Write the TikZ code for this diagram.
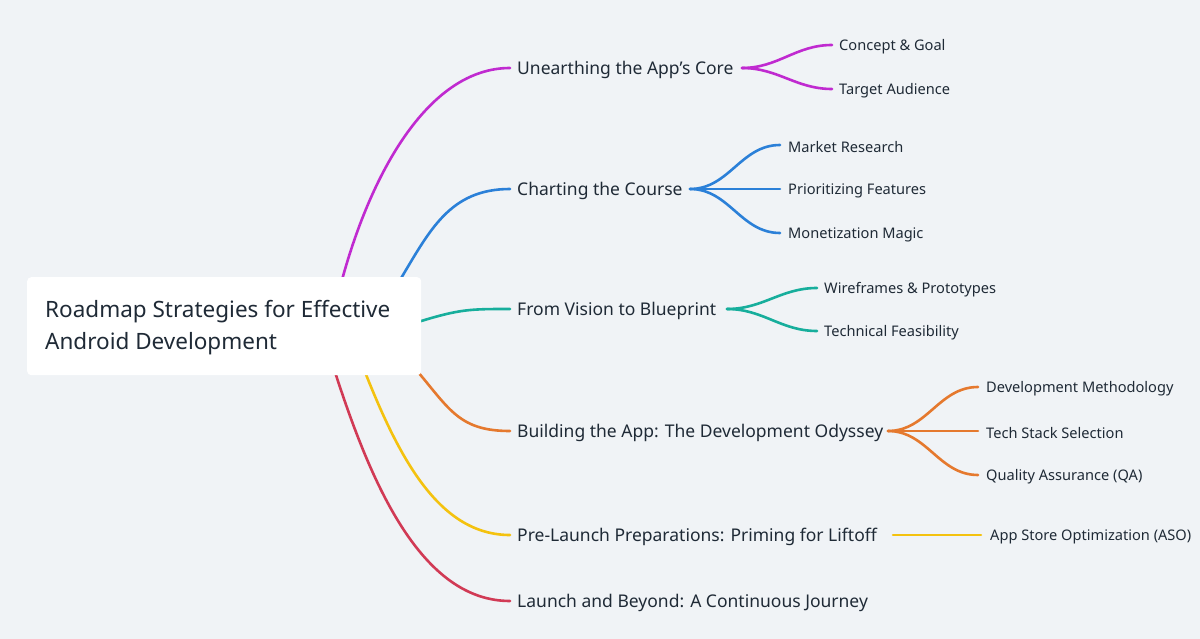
\documentclass[tikz,border=0pt]{standalone}
\usepackage{fontspec}
\setmainfont{Noto Sans}
\definecolor{bg}{HTML}{F0F3F6}
\definecolor{cpur}{HTML}{C02AD0}
\definecolor{cblu}{HTML}{2B80D8}
\definecolor{ctea}{HTML}{17AE9C}
\definecolor{cora}{HTML}{E5792E}
\definecolor{cyel}{HTML}{F4C20F}
\definecolor{cred}{HTML}{D13A55}
\definecolor{txt}{HTML}{1F2A36}
\tikzset{
 br/.style={line width=2.6pt,line cap=round},
 mainlbl/.style={anchor=west,inner sep=0pt,text=txt,font=\fontsize{17.5}{20}\selectfont},
 sublbl/.style={anchor=west,inner sep=0pt,text=txt,font=\fontsize{14.6}{17}\selectfont},
}
\begin{document}
\begin{tikzpicture}[x=1pt,y=-1pt]
\fill[bg] (0,0) rectangle (1200,639);
\useasboundingbox (0,0) rectangle (1200,639);
% branch starts (at the root box edge)
\coordinate (sp) at (342,280);
\coordinate (sb) at (400,280);
\coordinate (st) at (418,322);
\coordinate (so) at (418,372);
\coordinate (sy) at (365,372);
\coordinate (sr) at (335,372);
% main branch ends
\coordinate (ep) at (510,68);
\coordinate (eb) at (510,189);
\coordinate (et) at (510,309);
\coordinate (eo) at (510,431);
\coordinate (ey) at (510,535);
\coordinate (er) at (510,601);
\draw[br,cpur] (sp) .. controls (372,170) and (430,68) .. (ep);
\draw[br,cblu] (sb) .. controls (430,230) and (450,189) .. (eb);
\draw[br,ctea] (st) .. controls (460,309) and (470,309) .. (et);
\draw[br,cora] (so) .. controls (450,410) and (460,431) .. (eo);
\draw[br,cyel] (sy) .. controls (400,460) and (440,535) .. (ey);
\draw[br,cred] (sr) .. controls (370,480) and (420,601) .. (er);
\node[fill=white,rounded corners=4pt,minimum width=394pt,minimum height=98pt,anchor=north west] (root) at (27,277) {};
\node[anchor=west,align=left,inner sep=0pt,text=txt,font=\fontsize{22.5}{32}\selectfont] (rt) at (45,328) {Roadmap Strategies for Effective\\Android Development};
% main labels
\node[mainlbl] (m1) at (517,70) {Unearthing the App's Core};
\node[mainlbl] (m2) at (517,191) {Charting the Course};
\node[mainlbl] (m3) at (517,311) {From Vision to Blueprint};
\node[mainlbl] (m4) at (517,433) {Building the App: The Development Odyssey};
\node[mainlbl] (m5) at (517,537) {Pre-Launch Preparations: Priming for Liftoff};
\node[mainlbl] (m6) at (517,603) {Launch and Beyond: A Continuous Journey};
% sub-branches
\coordinate (p0) at (742,68);
\coordinate (p1) at (832,45); \coordinate (p2) at (832,89);
\draw[br,cpur] (p0) to[out=0,in=180] (p1);
\draw[br,cpur] (p0) to[out=0,in=180] (p2);
\node[sublbl] (s11) at (839,47) {Concept \& Goal};
\node[sublbl] (s12) at (839,91) {Target Audience};
\coordinate (b0) at (690,189);
\coordinate (b1) at (780,145); \coordinate (b2) at (780,189); \coordinate (b3) at (780,233);
\draw[br,cblu] (b0) to[out=0,in=180] (b1);
\draw[br,cblu] (b0) -- (b2);
\draw[br,cblu] (b0) to[out=0,in=180] (b3);
\node[sublbl] (s21) at (788,147) {Market Research};
\node[sublbl] (s22) at (788,191) {Prioritizing Features};
\node[sublbl] (s23) at (788,235) {Monetization Magic};
\coordinate (t0) at (727,309);
\coordinate (t1) at (817,288); \coordinate (t2) at (817,331);
\draw[br,ctea] (t0) to[out=0,in=180] (t1);
\draw[br,ctea] (t0) to[out=0,in=180] (t2);
\node[sublbl] (s31) at (824,290) {Wireframes \& Prototypes};
\node[sublbl] (s32) at (824,333) {Technical Feasibility};
\coordinate (o0) at (888,431);
\coordinate (o1) at (978,387); \coordinate (o2) at (978,431); \coordinate (o3) at (978,475);
\draw[br,cora] (o0) to[out=0,in=180] (o1);
\draw[br,cora] (o0) -- (o2);
\draw[br,cora] (o0) to[out=0,in=180] (o3);
\node[sublbl] (s41) at (986,389) {Development Methodology};
\node[sublbl] (s42) at (986,433) {Tech Stack Selection};
\node[sublbl] (s43) at (986,477) {Quality Assurance (QA)};
\coordinate (y0) at (893,535);
\coordinate (y1) at (981,535);
\draw[br,cyel] (y0) -- (y1);
\node[sublbl] (s51) at (990,537) {App Store Optimization (ASO)};
\end{tikzpicture}
\end{document}
